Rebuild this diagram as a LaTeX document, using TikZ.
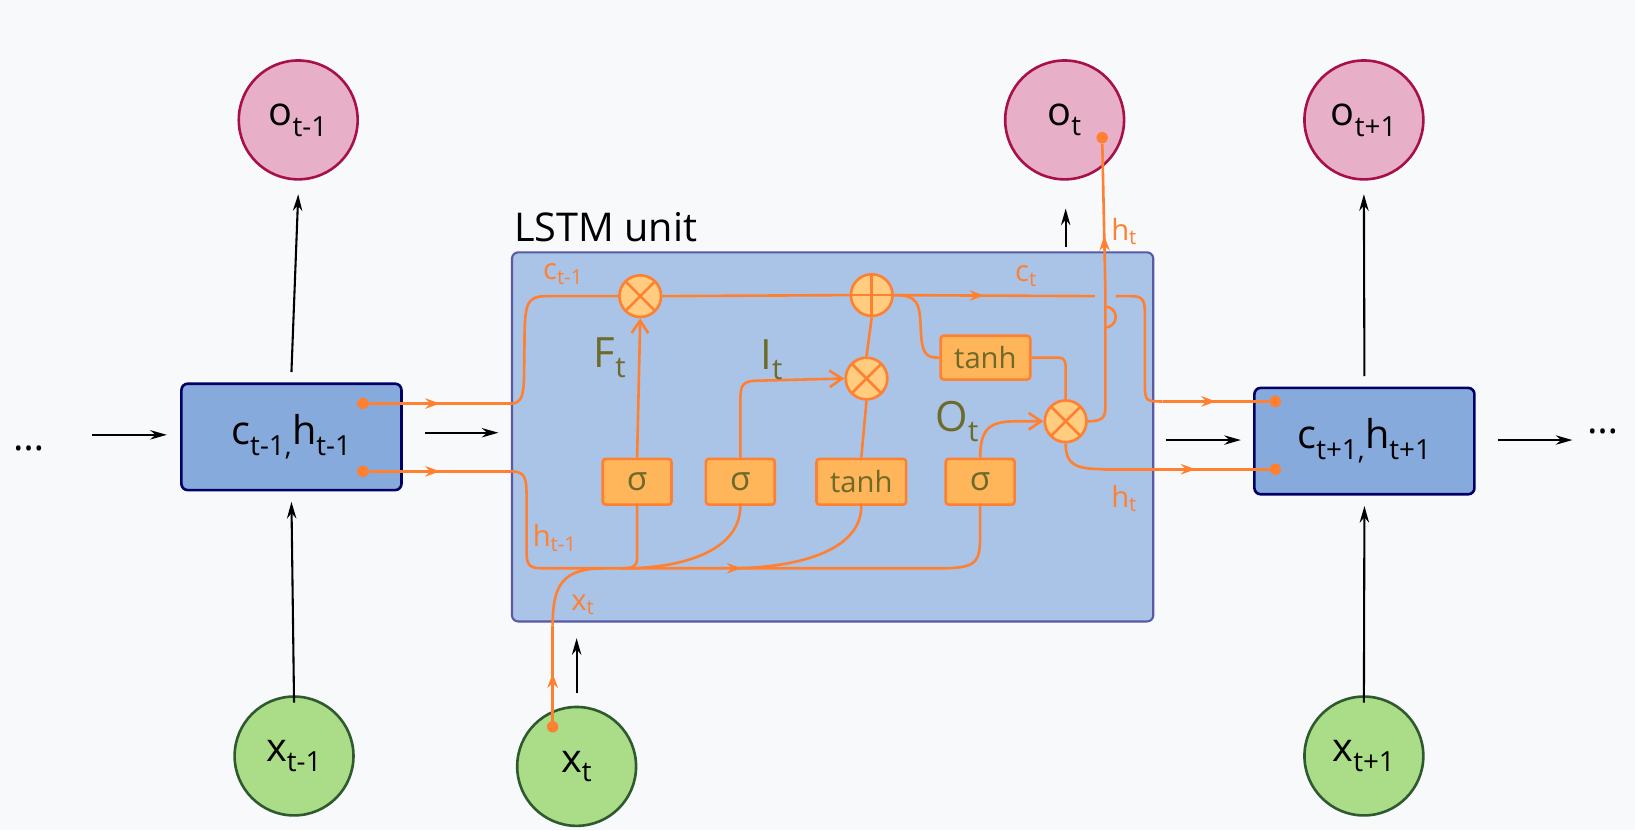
\documentclass[tikz,border=0pt]{standalone}
\usepackage{fontspec}
\setmainfont{Open Sans}
\usetikzlibrary{arrows.meta,decorations.markings}
\definecolor{bg}{HTML}{F8F9FB}
\definecolor{og}{HTML}{FF8030}
\definecolor{ol}{HTML}{6E6A2A}
\definecolor{unitc}{HTML}{AAC4E8}
\definecolor{boxc}{HTML}{86AADC}
\definecolor{pinkf}{HTML}{E8B0C8}
\definecolor{pinkd}{HTML}{A8104A}
\definecolor{greenf}{HTML}{ABDD88}
\definecolor{greend}{HTML}{2F5A2F}
\definecolor{gatef}{HTML}{FFB55A}
\definecolor{opf}{HTML}{FFCC80}
\begin{document}
\begin{tikzpicture}[x=1pt,y=-1pt,
  big/.style={font=\fontsize{38}{40}\selectfont},
  ocirc/.style={circle,draw=pinkd,fill=pinkf,line width=2.5pt,minimum size=114pt,inner sep=0pt,big},
  xcirc/.style={circle,draw=greend,fill=greenf,line width=2.5pt,minimum size=114pt,inner sep=0pt,big},
  state/.style={rounded corners=6pt,draw=blue!40!black,fill=boxc,line width=2.5pt,minimum width=211pt,minimum height=102pt,big},
  gate/.style={rounded corners=3pt,draw=og,fill=gatef,line width=2.5pt,minimum width=66pt,minimum height=44pt,text=ol,font=\fontsize{32}{32}\selectfont},
  op/.style={circle,draw=og,fill=opf,line width=2.5pt,minimum size=40pt,inner sep=0pt},
  mul/.style={op,path picture={\draw[og,line width=2.5pt] (path picture bounding box.north west)--(path picture bounding box.south east) (path picture bounding box.south west)--(path picture bounding box.north east);}},
  add/.style={op,path picture={\draw[og,line width=2.5pt] (path picture bounding box.north)--(path picture bounding box.south) (path picture bounding box.west)--(path picture bounding box.east);}},
  blk/.style={-{Stealth[length=16pt,width=9pt]},line width=2pt},
  wire/.style={og,line width=2.5pt},
  mid/.style={postaction={decorate},decoration={markings,mark=at position #1 with {\arrow{Stealth[length=14pt,width=10pt]}}}},
  dot/.style={circle,fill=og,inner sep=0pt,minimum size=11pt},
  olab/.style={text=og,font=\fontsize{28}{28}\selectfont},
  glab/.style={text=ol,font=\fontsize{40}{40}\selectfont}]
\fill[bg] (0,0) rectangle (1568,796);
\useasboundingbox (0,0) rectangle (1568,796);

% unit
\node[draw=blue!30!gray,fill=unitc,line width=2pt,rounded corners=6pt,minimum width=615pt,minimum height=354pt] (unit) at (798.5,419) {};
\node[big,anchor=south west,inner sep=0pt] (ulab) at (493,232) {LSTM unit};

% outer nodes
\node[ocirc] (o1) at (286,115) {o\textsubscript{t-1}};
\node[ocirc] (o2) at (1021,115) {o\textsubscript{t}};
\node[ocirc] (o3) at (1308,115) {o\textsubscript{t+1}};
\node[xcirc] (x1) at (282,725) {x\textsubscript{t-1}};
\node[xcirc] (x2) at (553,735) {x\textsubscript{t}};
\node[xcirc] (x3) at (1308,725) {x\textsubscript{t+1}};
\node[state] (s1) at (279.5,419) {c\textsubscript{t-1,}h\textsubscript{t-1}};
\node[state] (s3) at (1308.5,423) {c\textsubscript{t+1,}h\textsubscript{t+1}};
\node[big] (dl) at (28,430) {\dots};
\node[big] (dr) at (1537,414) {\dots};

% black arrows
\coordinate (a1) at (88,417); \coordinate (a2) at (160,417);
\draw[blk] (a1) -- (a2);
\draw[blk] ([yshift=10pt]s1.north) -- ([yshift=-13pt]o1.south);
\draw[blk] ([yshift=-7pt]x1.north) -- ([yshift=-10pt]s1.south);
\draw[blk] ([yshift=10pt]s3.north) -- ([yshift=-13pt]o3.south);
\draw[blk] ([yshift=-7pt]x3.north) -- ([yshift=-10pt]s3.south);
\coordinate (b1) at (408,415); \coordinate (b2) at (478,415);
\draw[blk] (b1) -- (b2);
\coordinate (b3) at (1118,422); \coordinate (b4) at (1190,422);
\draw[blk] (b3) -- (b4);
\coordinate (b5) at (1437,422); \coordinate (b6) at (1508,422);
\draw[blk] (b5) -- (b6);
\coordinate (b7) at (1022,237); \coordinate (b8) at (1022,200);
\draw[blk] (b7) -- (b8);
\coordinate (b9) at (553,665); \coordinate (b10) at (553,612);
\draw[blk] (b9) -- (b10);

% gates
\node[mul] (m1) at (614,284) {};
\node[add] (p1) at (836,283) {};
\node[mul] (m2) at (831,363) {};
\node[mul] (m3) at (1022,404) {};
\node[gate] (g1) at (611,462) {σ};
\node[gate] (g2) at (710,462) {σ};
\node[gate,minimum width=86pt,font=\fontsize{28}{28}\selectfont] (g3) at (826,462) {tanh};
\node[gate] (g4) at (940,462) {σ};
\node[gate,minimum width=86pt,minimum height=42pt,font=\fontsize{28}{28}\selectfont] (g5) at (945,343) {tanh};

% wires
\node[dot] (d1) at (348,387) {};
\node[dot] (d2) at (348,452) {};
\node[dot] (d3) at (530,697) {};
\node[dot] (d4) at (1057,132) {};
\node[dot] (d5) at (1223,385) {};
\node[dot] (d6) at (1223,450) {};
\draw[wire,mid=0.5] (d1) -- (490,387);
\draw[wire] (490,387) .. controls (505,387) and (502,370) .. (503,330) .. controls (503,290) and (505,284) .. (525,284) -- (m1.west);
\draw[wire] (m1.east) -- (p1.west);
\draw[wire,mid=0.45] (p1.east) -- (1050,284);
\draw[wire] (1070,284) -- (1085,284) .. controls (1098,284) and (1098,290) .. (1098,305) -- (1098,370) .. controls (1098,385) and (1100,385) .. (1115,385);
\draw[wire,mid=0.5] (1115,385) -- (d5);
\draw[wire,mid=0.5] (d2) -- (490,452);
\draw[wire] (490,452) .. controls (505,452) and (505,460) .. (505,480) -- (505,530) .. controls (505,545) and (510,545) .. (525,545);
\draw[wire,mid=0.4] (525,545) -- (900,545) .. controls (938,545) and (940,540) .. (940,510) -- (g4.south);
\draw[wire,mid=0.5] (d3) -- (530,600);
\draw[wire] (530,600) .. controls (530,560) and (540,545) .. (580,545);
\draw[wire] (g1.south) -- (611,535) .. controls (611,545) and (605,545) .. (595,545);
\draw[wire] (g2.south) .. controls (710,530) and (650,545) .. (600,545);
\draw[wire] (g3.south) .. controls (826,530) and (760,545) .. (700,545);
\draw[wire,-{Straight Barb[length=12pt,width=16pt]}] (g1.north) -- (m1.south);
\draw[wire,-{Straight Barb[length=12pt,width=16pt]}] (g2.north) -- (710,385) .. controls (710,368) and (712,365) .. (730,365) -- (m2.west);
\draw[wire] (g3.north) -- (m2.south);
\draw[wire] (m2.north) -- (p1.south);
\draw[wire] (p1.east) .. controls (880,283) and (882,290) .. (883,315) .. controls (884,340) and (888,343) .. (g5.west);
\draw[wire] (g5.east) -- (1015,343) .. controls (1022,343) and (1022,348) .. (1022,355) -- (m3.north);
\draw[wire,-{Straight Barb[length=12pt,width=16pt]}] (g4.north) .. controls (940,410) and (950,404) .. (975,404) -- (m3.west);
\draw[wire] (m3.east) .. controls (1058,404) and (1060,400) .. (1060,390) -- (1060,294) arc[start angle=-90,end angle=90,radius=10] -- (1060,274);
\draw[wire,mid=0.35] (1060,274) -- (d4);
\draw[wire] (m3.south) .. controls (1022,445) and (1030,450) .. (1060,450);
\draw[wire,mid=0.55] (1060,450) -- (d6);

% labels
\node[olab] (lc1) at (540,263) {c\textsubscript{t-1}};
\node[olab] (lc2) at (984,265) {c\textsubscript{t}};
\node[olab] (lh1) at (532,516) {h\textsubscript{t-1}};
\node[olab] (lx) at (559,580) {x\textsubscript{t}};
\node[olab] (lh2) at (1078,222) {h\textsubscript{t}};
\node[olab] (lh3) at (1078,478) {h\textsubscript{t}};
\node[glab] (lf) at (585,343) {F\textsubscript{t}};
\node[glab] (li) at (740,345) {I\textsubscript{t}};
\node[glab] (lo) at (918,404) {O\textsubscript{t}};
\end{tikzpicture}
\end{document}
